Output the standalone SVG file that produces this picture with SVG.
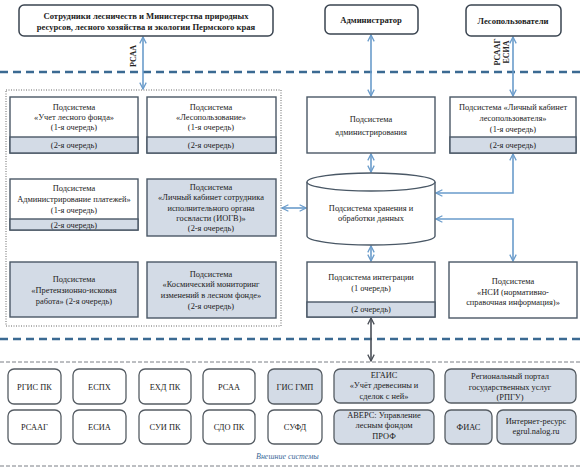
<svg xmlns="http://www.w3.org/2000/svg" width="581" height="475" viewBox="0 0 581 475" font-family="'Liberation Serif', 'Times New Roman', serif">
<defs>
<style>
text{font-family:"Liberation Serif","Times New Roman",serif;font-size:8.4px;fill:#222;text-anchor:middle}
.b{font-weight:bold;font-size:8.6px}
.box{fill:#fff;stroke:#4a5866;stroke-width:1.4}
.g{fill:#d3dbe6;stroke:#4a5866;stroke-width:1.4}
.top{fill:#fff;stroke:#3a4450;stroke-width:1.5}
.ext{fill:#fff;stroke:#555c63;stroke-width:1.3}
.extg{fill:#d3dbe6;stroke:#555c63;stroke-width:1.3}
.dash{stroke:#3b6a92;stroke-width:2.4;stroke-dasharray:8 5;fill:none}
.thin{stroke:#7a7f85;stroke-width:1;stroke-dasharray:4 2;fill:none}
.arr{stroke:#6a9ccb;stroke-width:1.6;fill:none;marker-start:url(#ah);marker-end:url(#ah)}
.arrd{stroke:#4a4f57;stroke-width:1.6;fill:none;marker-start:url(#ahd);marker-end:url(#ahd)}
.lbl{font-weight:bold;font-size:8px}
.it{font-style:italic;fill:#3c6a9a;font-size:8px;text-anchor:start}
</style>
<marker id="ah" viewBox="0 0 10 10" refX="9" refY="5" markerWidth="8" markerHeight="8" markerUnits="userSpaceOnUse" orient="auto-start-reverse">
<path d="M1,1 L9,5 L1,9" fill="none" stroke="#6a9ccb" stroke-width="1.6"/>
</marker>
<marker id="ahd" viewBox="0 0 10 10" refX="9" refY="5" markerWidth="8" markerHeight="8" markerUnits="userSpaceOnUse" orient="auto-start-reverse">
<path d="M1,1 L9,5 L1,9" fill="none" stroke="#4a4f57" stroke-width="1.6"/>
</marker>
</defs>
<rect width="581" height="475" fill="#fff"/>

<!-- separators -->
<g id="separators">
<line class="dash" x1="0" y1="72" x2="581" y2="72"/>
<line class="dash" x1="0" y1="339" x2="581" y2="339"/>
<line class="thin" x1="0" y1="362" x2="581" y2="362"/>
<line class="thin" x1="0" y1="466" x2="581" y2="466"/>
<rect x="6" y="90" width="275" height="236" fill="none" stroke="#666" stroke-width="1" stroke-dasharray="1 1.5"/>
</g>

<!-- connectors -->
<g id="connectors">
<line class="arr" x1="143" y1="37" x2="143" y2="89"/>
<line class="arr" x1="371" y1="35" x2="371" y2="96"/>
<line class="arr" x1="513" y1="37" x2="513" y2="96"/>
<line class="arr" x1="371" y1="154" x2="371" y2="172"/>
<path class="arr" d="M513,154 V193 H436"/>
<path class="arr" d="M513,261 V219 H436"/>
<line class="arr" x1="282" y1="208" x2="306" y2="208"/>
<line class="arr" x1="371" y1="246" x2="371" y2="261"/>
<line class="arrd" x1="371" y1="318" x2="371" y2="361"/>
<text class="lbl" transform="translate(136,56) rotate(-90)">РСАА</text>
<text class="lbl" transform="translate(500,52) rotate(-90)">РСААГ</text>
<text class="lbl" transform="translate(509,52) rotate(-90)">ЕСИА</text>
</g>

<!-- top actors -->
<g id="staff">
<rect class="top" x="19" y="5" width="254" height="31" rx="5"/>
<text class="b" x="146" y="19">Сотрудники лесничеств и Министерства природных</text>
<text class="b" x="146" y="30">ресурсов, лесного хозяйства и экологии Пермского края</text>
</g>
<g id="admin">
<rect class="top" x="325" y="5" width="93" height="29" rx="5"/>
<text class="b" x="371" y="23">Администратор</text>
</g>
<g id="users">
<rect class="top" x="466" y="5" width="95" height="31" rx="5"/>
<text class="b" x="513" y="24">Лесопользователи</text>
</g>

<!-- left subsystems -->
<g id="forestfund">
<rect class="box" x="10" y="97" width="128" height="56"/>
<rect class="g" x="10" y="137" width="128" height="16"/>
<text x="74" y="110">Подсистема</text>
<text x="74" y="120">«Учет лесного фонда»</text>
<text x="74" y="130">(1-я очередь)</text>
<text x="74" y="148">(2-я очередь)</text>
</g>
<g id="forestuse">
<rect class="box" x="147" y="97" width="129" height="56"/>
<rect class="g" x="147" y="137" width="129" height="16"/>
<text x="211" y="110">Подсистема</text>
<text x="211" y="120">«Лесопользование»</text>
<text x="211" y="130">(1-я очередь)</text>
<text x="211" y="148">(2-я очередь)</text>
</g>
<g id="payments">
<rect class="box" x="10" y="179" width="128" height="51"/>
<rect class="g" x="10" y="219" width="128" height="11"/>
<text x="74" y="191">Подсистема</text>
<text x="74" y="202">Администрирование платежей»</text>
<text x="74" y="213">(1-я очередь)</text>
<text x="74" y="228">(2-я очередь)</text>
</g>
<g id="iogv">
<rect class="g" x="147" y="179" width="129" height="57"/>
<text x="211" y="190">Подсистема</text>
<text x="211" y="200">«Личный кабинет сотрудника</text>
<text x="211" y="211">исполнительного органа</text>
<text x="211" y="221">госвласти (ИОГВ)»</text>
<text x="211" y="231">(2-я очередь)</text>
</g>
<g id="claims">
<rect class="g" x="10" y="262" width="128" height="55"/>
<text x="74" y="282">Подсистема</text>
<text x="74" y="293">«Претензионно-исковая</text>
<text x="74" y="304">работа» (2-я очередь)</text>
</g>
<g id="space">
<rect class="g" x="147" y="262" width="129" height="56"/>
<text x="211" y="277">Подсистема</text>
<text x="211" y="287">«Космический мониторинг</text>
<text x="211" y="298">изменений в лесном фонде»</text>
<text x="211" y="309">(2-я очередь)</text>
</g>

<!-- center/right subsystems -->
<g id="administration">
<rect class="box" x="307" y="97" width="128" height="56"/>
<text x="371" y="122">Подсистема</text>
<text x="371" y="135">администрирования</text>
</g>
<g id="usercabinet">
<rect class="box" x="450" y="97" width="126" height="56"/>
<rect class="g" x="450" y="137" width="126" height="16"/>
<text x="513" y="110">Подсистема «Личный кабинет</text>
<text x="513" y="121">лесопользователя»</text>
<text x="513" y="132">(1-я очередь)</text>
<text x="513" y="148">(2-я очередь)</text>
</g>
<g id="storage">
<path d="M307,182 V236 A64,9 0 0 0 435,236 V182" fill="#fff" stroke="#4a5866" stroke-width="1.4"/>
<ellipse cx="371" cy="182" rx="64" ry="9" fill="#fff" stroke="#4a5866" stroke-width="1.4"/>
<text x="371" y="211">Подсистема хранения и</text>
<text x="371" y="221">обработки данных</text>
</g>
<g id="integration">
<rect class="box" x="307" y="262" width="128" height="55"/>
<rect class="g" x="307" y="302" width="128" height="15"/>
<text x="371" y="280">Подсистема интеграции</text>
<text x="371" y="291">(1 очередь)</text>
<text x="371" y="312">(2 очередь)</text>
</g>
<g id="nsi">
<rect class="box" x="449" y="262" width="128" height="56"/>
<text x="513" y="284">Подсистема</text>
<text x="513" y="295">«НСИ (нормативно-</text>
<text x="513" y="305">справочная информация)»</text>
</g>

<!-- external systems -->
<g id="ext-rgis"><rect class="ext" x="8" y="369" width="53" height="35" rx="6"/><text x="34.5" y="390">РГИС ПК</text></g>
<g id="ext-espx"><rect class="ext" x="73" y="369" width="53" height="35" rx="6"/><text x="99.5" y="390">ЕСПХ</text></g>
<g id="ext-exd"><rect class="ext" x="139" y="369" width="52" height="35" rx="6"/><text x="165" y="390">ЕХД ПК</text></g>
<g id="ext-rsaa"><rect class="ext" x="203" y="369" width="52" height="35" rx="6"/><text x="229" y="390">РСАА</text></g>
<g id="ext-gisgmp"><rect class="extg" x="268" y="369" width="54" height="35" rx="6"/><text x="295" y="390">ГИС ГМП</text></g>
<g id="ext-rsaag"><rect class="ext" x="8" y="410" width="53" height="34" rx="6"/><text x="34.5" y="430">РСААГ</text></g>
<g id="ext-esia"><rect class="ext" x="73" y="410" width="53" height="34" rx="6"/><text x="99.5" y="430">ЕСИА</text></g>
<g id="ext-sui"><rect class="ext" x="139" y="410" width="52" height="34" rx="6"/><text x="165" y="430">СУИ ПК</text></g>
<g id="ext-sdo"><rect class="ext" x="203" y="410" width="52" height="34" rx="6"/><text x="229" y="430">СДО ПК</text></g>
<g id="ext-sufd"><rect class="ext" x="268" y="410" width="54" height="34" rx="6"/><text x="295" y="430">СУФД</text></g>
<g id="ext-egais"><rect class="extg" x="334" y="369" width="100" height="34" rx="6"/>
<text x="384" y="378">ЕГАИС</text><text x="384" y="388">«Учёт древесины и</text><text x="384" y="399">сделок с ней»</text></g>
<g id="ext-avers"><rect class="extg" x="334" y="410" width="100" height="34" rx="6"/>
<text x="384" y="418">АВЕРС: Управление</text><text x="384" y="428">лесным фондом</text><text x="384" y="439">ПРОФ</text></g>
<g id="ext-rpgu"><rect class="extg" x="445" y="369" width="131" height="34" rx="6"/>
<text x="510" y="379">Региональный портал</text><text x="510" y="390">государственных услуг</text><text x="510" y="400">(РПГУ)</text></g>
<g id="ext-fias"><rect class="extg" x="445" y="410" width="47" height="34" rx="6"/><text x="468.5" y="430">ФИАС</text></g>
<g id="ext-egrul"><rect class="extg" x="497" y="410" width="79" height="34" rx="6"/>
<text x="536" y="424">Интернет-ресурс</text><text x="536" y="434">egrul.nalog.ru</text></g>
<text class="it" x="256" y="459">Внешние системы</text>
</svg>
